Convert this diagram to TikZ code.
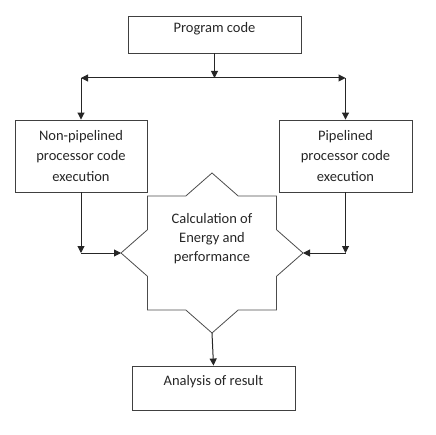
\documentclass[tikz,border=0pt]{standalone}
\usepackage{fontspec}
\setmainfont{Carlito}
\usetikzlibrary{arrows.meta}
\tikzset{
    block/.style={rectangle, draw=black!75, line width=0.9pt, inner sep=0pt, align=center, text=black!85},
    link/.style={->, line width=1pt, draw=black!85},
    starline/.style={draw=black!70, line width=0.8pt, line join=miter},
}
\begin{document}
\begin{tikzpicture}[x=1pt, y=-1pt, >={Triangle[length=7pt,width=7pt]}, font=\fontsize{14.5}{20.5}\selectfont]
    \useasboundingbox (0,0) rectangle (435,435);
    \node (1) at (214.5,34.5) [block, minimum width=173pt, minimum height=37pt, text height=17pt, text depth=20pt] {Program code};
    \node (2) at (81,156) [block, minimum width=132pt, minimum height=72pt] {Non-pipelined\\processor code\\execution};
    \node (3) at (345.5,156) [block, minimum width=133pt, minimum height=72pt] {Pipelined\\processor code\\execution};
    \node (5) at (213.5,388) [block, minimum width=163pt, minimum height=44pt, text height=19pt, text depth=25pt] {Analysis of result};
    % star for the calculation step
    \draw[starline] (212,173) coordinate (4n) -- (238.2,196) -- (276.5,196) -- (276.5,229.7)
        -- (303,253) coordinate (4e) -- (276.5,276.3) -- (276.5,310) -- (238.2,310)
        -- (212,333) coordinate (4s) -- (185.8,310) -- (147.5,310) -- (147.5,276.3)
        -- (121,253) coordinate (4w) -- (147.5,229.7) -- (147.5,196) -- (185.8,196) -- cycle;
    \node (4) at (212,239) [align=center, text=black!85, font=\fontsize{14.5}{19}\selectfont] {Calculation of\\Energy and\\performance};
    % junctions
    \coordinate (a) at (1.south |- 0,78);
    \coordinate (b) at (2.north |- a);
    \coordinate (c) at (3.north |- a);
    \coordinate (d) at (2.south |- 4w);
    \coordinate (e) at (3.south |- 4e);
    \draw[link] (1.south) to (a);
    \draw[link] (a) to (b);
    \draw[link] (a) to (c);
    \draw[link] (b) to (2.north);
    \draw[link] (c) to (3.north);
    \draw[link] (2.south) to (d);
    \draw[link] (d) to (4w);
    \draw[link] (3.south) to (e);
    \draw[link] (e) to (4e);
    \draw[link] (4s) to (5.north);
\end{tikzpicture}
\end{document}
